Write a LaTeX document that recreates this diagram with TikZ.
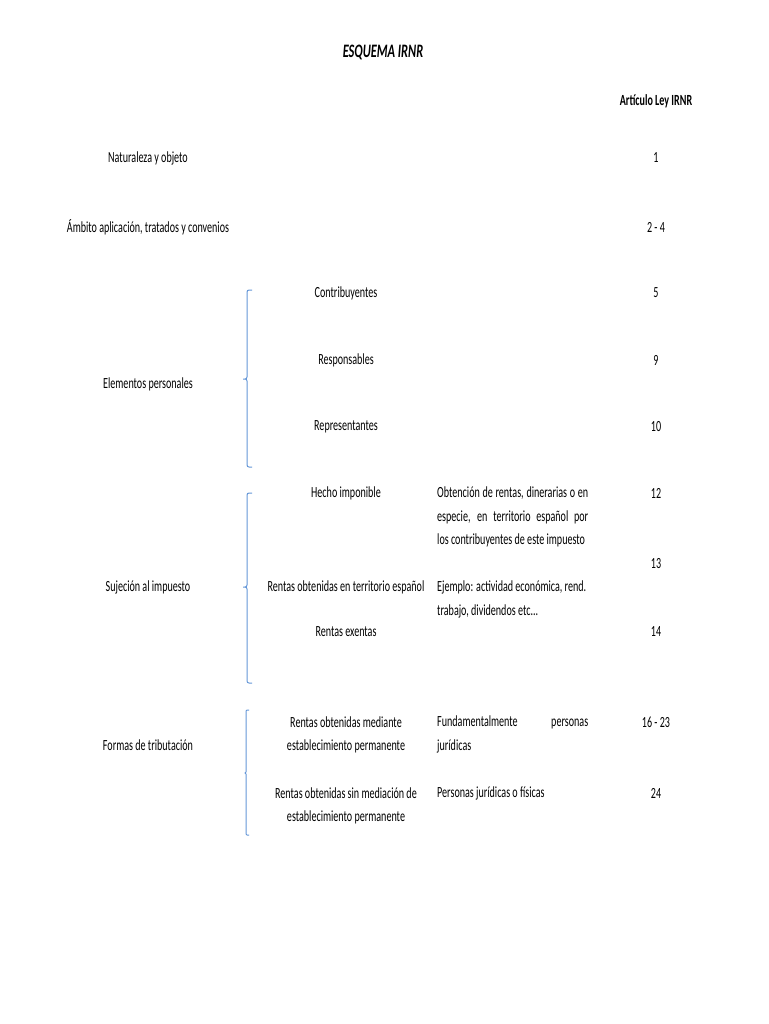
\documentclass[tikz,border=0pt]{standalone}
\usepackage{fontspec}
\setmainfont{Carlito}[FakeStretch=0.65]
\definecolor{bracecol}{RGB}{100,150,215}
\tikzset{
    txt/.style={inner sep=0pt, font=\fontsize{15.5}{23.5}\selectfont},
    mid/.style={txt, align=center},
    note/.style={txt, anchor=north west, text width=151pt, align=justify},
    llave/.style={draw=bracecol, line width=1pt, rounded corners=2pt},
}
\begin{document}
\begin{tikzpicture}[x=1pt,y=-1pt]
\useasboundingbox (0,0) rectangle (768,1024);
\node (titulo) at (383,52) {\fontsize{19}{22}\selectfont\bfseries\itshape ESQUEMA IRNR};
\node[txt] (articulo) at (656,101) {\bfseries Artículo Ley IRNR};

% primera columna
\node[txt] (naturaleza) at (148,158) {Naturaleza y objeto};
\node[txt] (ambito) at (148,227) {Ámbito aplicación, tratados y convenios};
\node[txt] (personales) at (148,384) {Elementos personales};
\node[txt] (sujecion) at (148,587) {Sujeción al impuesto};
\node[txt] (formas) at (148,745) {Formas de tributación};

% llaves
\coordinate (ll1a) at (252,290);
\coordinate (ll1m) at (247,379);
\coordinate (ll1b) at (252,467);
\coordinate (ll2a) at (252,493);
\coordinate (ll2m) at (247,587);
\coordinate (ll2b) at (252,683);
\coordinate (ll3a) at (249,710);
\coordinate (ll3m) at (246,773);
\coordinate (ll3b) at (249,835);
\draw[llave] (ll1a) -| (ll1m) -- ++(-5,0) -- (ll1m) |- (ll1b);
\draw[llave] (ll2a) -| (ll2m) -- ++(-5,0) -- (ll2m) |- (ll2b);
\draw[llave, rounded corners=1pt] (ll3a) -| (ll3m) -- ++(-2,0) -- (ll3m) |- (ll3b);

% segunda columna
\node[txt] (contrib) at (346,293) {Contribuyentes};
\node[txt] (respons) at (346,360) {Responsables};
\node[txt] (repres) at (346,427) {Representantes};
\node[txt] (hecho) at (346,493) {Hecho imponible};
\node[txt] (territorio) at (346,587) {Rentas obtenidas en territorio español};
\node[txt] (exentas) at (346,632) {Rentas exentas};
\node[mid] (mediante) at (346,735) {Rentas obtenidas mediante\\establecimiento permanente};
\node[mid] (sinmed) at (346,806) {Rentas obtenidas sin mediación de\\establecimiento permanente};

% tercera columna
\node[note] (obtencion) at (437,487) {Obtención de rentas, dinerarias o en\linebreak especie, en territorio español por\linebreak los contribuyentes de este impuesto};
\node[note] (ejemplo) at (437,581) {Ejemplo: actividad económica, rend.\\trabajo, dividendos etc...};
\node[note] (fundam) at (437,716) {Fundamentalmente personas\linebreak jurídicas};
\node[note] (fisicas) at (437,787) {Personas jurídicas o físicas};

% articulos
\foreach \num/\yy/\nm in {1/158/a, 2 - 4/227/b, 5/293/c, 9/360/d, 10/427/e,
    12/493/f, 13/564/g, 14/632/h, 16 - 23/722/i, 24/793/j}
    \node[txt] (art\nm) at (656,\yy) {\num};
\end{tikzpicture}
\end{document}
